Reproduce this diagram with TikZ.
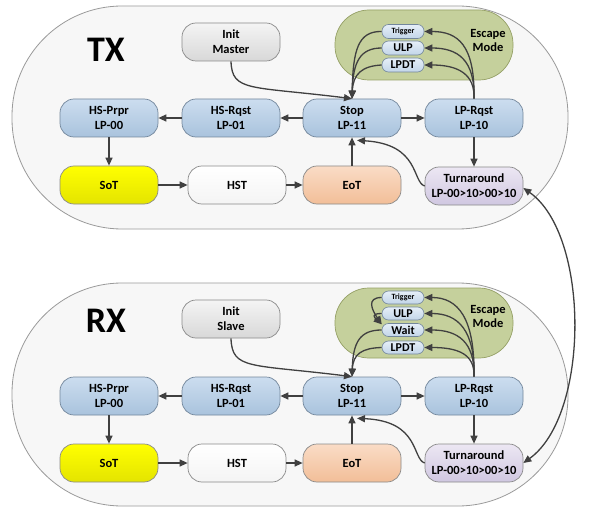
\documentclass[tikz,border=0pt]{standalone}
\usepackage{fontspec}
\setmainfont{Carlito}
\usetikzlibrary{arrows.meta}
\definecolor{contborder}{HTML}{9A9A9A}
\definecolor{contfill}{HTML}{F7F7F7}
\definecolor{bluetop}{HTML}{CCDDEF}
\definecolor{bluebot}{HTML}{A9C3DD}
\definecolor{blueborder}{HTML}{73879C}
\definecolor{graytop}{HTML}{F4F4F4}
\definecolor{graybot}{HTML}{D8D8D8}
\definecolor{grayborder}{HTML}{8A8A8A}
\definecolor{yeltop}{HTML}{FFFF00}
\definecolor{yelbot}{HTML}{E4E400}
\definecolor{peachtop}{HTML}{FADCC6}
\definecolor{peachbot}{HTML}{F2BE98}
\definecolor{lavtop}{HTML}{ECE7F3}
\definecolor{lavbot}{HTML}{D0C7E1}
\definecolor{escfill}{HTML}{C5D09C}
\definecolor{escborder}{HTML}{95A066}
\definecolor{smalltop}{HTML}{E6EFF8}
\definecolor{smallbot}{HTML}{C2D5E8}
\definecolor{arrcol}{HTML}{404040}
\begin{document}
\begin{tikzpicture}[x=1pt,y=-1pt,
  st/.style={line width=0.7pt, rounded corners=14pt, minimum width=98pt,
    minimum height=38pt, align=center, inner sep=1pt,
    font=\fontsize{12.5}{15}\selectfont\bfseries},
  bluest/.style={st, draw=blueborder, top color=bluetop, bottom color=bluebot},
  grayst/.style={st, draw=grayborder, top color=graytop, bottom color=graybot},
  yelst/.style={st, draw=grayborder, top color=yeltop, bottom color=yelbot},
  whitest/.style={st, draw=grayborder, top color=white, bottom color=graytop},
  peachst/.style={st, draw=grayborder, top color=peachtop, bottom color=peachbot},
  lavst/.style={st, draw=grayborder, top color=lavtop, bottom color=lavbot},
  small/.style={draw=blueborder, line width=0.6pt, rounded corners=6.5pt,
    minimum width=42pt, minimum height=14pt, inner sep=0pt,
    top color=smalltop, bottom color=smallbot,
    font=\fontsize{12}{13}\selectfont\bfseries},
  cont/.style={draw=contborder, line width=0.8pt, fill=contfill, rounded corners=110pt},
  escbox/.style={draw=escborder, line width=0.7pt, fill=escfill, rounded corners=34pt},
  bigtxt/.style={font=\fontsize{36}{40}\selectfont\bfseries},
  esctxt/.style={align=center, font=\fontsize{12.5}{14}\selectfont\bfseries},
  arr/.style={draw=arrcol, line width=1.3pt, -{Triangle[length=8pt,width=7pt]}},
  darr/.style={draw=arrcol, line width=1.3pt, {Triangle[length=8pt,width=7pt]}-{Triangle[length=8pt,width=7pt]}},
]
\useasboundingbox (0,0) rectangle (592,516);

% ---------------- TX ----------------
\path[cont] (12,6) rectangle (568,229);
\path[escbox] (335,10) rectangle (513,80);
\node[bigtxt] (txlbl) at (106,50) {TX};
\node[esctxt] (tesc) at (488,40) {Escape\\Mode};
\node[grayst] (tinit) at (231,42) {Init\\Master};
\node[bluest] (thsp) at (109,118) {HS-Prpr\\LP-00};
\node[bluest] (thsr) at (231,118) {HS-Rqst\\LP-01};
\node[bluest] (tstop) at (352,118) {Stop\\LP-11};
\node[bluest] (tlpr) at (474,118) {LP-Rqst\\LP-10};
\node[yelst] (tsot) at (109,185) {SoT};
\node[whitest] (thst) at (237,185) {HST};
\node[peachst] (teot) at (352,185) {EoT};
\node[lavst] (tturn) at (474,186) {Turnaround\\LP-00>10>00>10};
\node[small] (ttrig) at (403,31.5) {\fontsize{8}{9}\selectfont Trigger};
\node[small] (tulp) at (403,48) {ULP};
\node[small] (tlpdt) at (403,65) {LPDT};

\draw[arr] (tinit.south) .. controls (232,92) and (250,86) .. (tstop.north);
\draw[arr] (ttrig.west) .. controls (358,31) and (353,50) .. (tstop.north);
\draw[arr] (tulp.west) .. controls (360,48) and (353,62) .. (tstop.north);
\draw[arr] (tlpdt.west) .. controls (362,66) and (353,74) .. (tstop.north);
\draw[arr] (tlpr.north) .. controls (475,45) and (458,31.5) .. (ttrig.east);
\draw[arr] (tlpr.north) .. controls (475,60) and (458,48) .. (tulp.east);
\draw[arr] (tlpr.north) .. controls (475,74) and (458,65) .. (tlpdt.east);
\draw[arr] (tstop.west) -- (thsr.east);
\draw[arr] (thsr.west) -- (thsp.east);
\draw[arr] (thsp.south) -- (tsot.north);
\draw[arr] (tsot.east) -- (thst.west);
\draw[arr] (thst.east) -- (teot.west);
\draw[arr] (teot.north) -- (tstop.south);
\draw[arr] (tstop.east) -- (tlpr.west);
\draw[arr] (tlpr.south) -- (tturn.north);
\draw[arr] (tturn.west) .. controls (412,182) and (420,144) .. ([xshift=5pt,yshift=-3pt]tstop.south);

% ---------------- RX ----------------
\path[cont] (12,283) rectangle (568,506);
\path[escbox] (335,288) rectangle (513,358);
\node[bigtxt] (rxlbl) at (106,321) {RX};
\node[esctxt] (resc) at (488,316) {Escape\\Mode};
\node[grayst] (rinit) at (231,319) {Init\\Slave};
\node[bluest] (rhsp) at (109,396) {HS-Prpr\\LP-00};
\node[bluest] (rhsr) at (231,396) {HS-Rqst\\LP-01};
\node[bluest] (rstop) at (352,396) {Stop\\LP-11};
\node[bluest] (rlpr) at (474,396) {LP-Rqst\\LP-10};
\node[yelst] (rsot) at (109,463) {SoT};
\node[whitest] (rhst) at (237,463) {HST};
\node[peachst] (reot) at (352,463) {EoT};
\node[lavst] (rturn) at (474,463) {Turnaround\\LP-00>10>00>10};
\node[small, minimum height=13pt] (rtrig) at (403,297.5) {\fontsize{8}{9}\selectfont Trigger};
\node[small, minimum height=13pt] (rulp) at (403,313.5) {ULP};
\node[small, minimum height=13pt] (rwait) at (403,330) {Wait};
\node[small, minimum height=13pt] (rlpdt) at (403,347.5) {LPDT};

\draw[arr] (rinit.south) .. controls (232,370) and (250,364) .. (rstop.north);
\draw[arr] (rtrig.west) .. controls (366,297.5) and (372,310) .. (rwait.165);
\draw[arr] (rulp.west) .. controls (370,313.5) and (375,318) .. (rwait.165);
\draw[arr] (rwait.west) .. controls (360,330) and (353,342) .. (rstop.north);
\draw[arr] (rlpdt.west) .. controls (362,348) and (353,354) .. (rstop.north);
\draw[arr] (rlpr.north) .. controls (475,318) and (458,297.5) .. (rtrig.east);
\draw[arr] (rlpr.north) .. controls (475,330) and (458,313.5) .. (rulp.east);
\draw[arr] (rlpr.north) .. controls (475,342) and (458,330) .. (rwait.east);
\draw[arr] (rlpr.north) .. controls (475,354) and (458,347.5) .. (rlpdt.east);
\draw[arr] (rstop.west) -- (rhsr.east);
\draw[arr] (rhsr.west) -- (rhsp.east);
\draw[arr] (rhsp.south) -- (rsot.north);
\draw[arr] (rsot.east) -- (rhst.west);
\draw[arr] (rhst.east) -- (reot.west);
\draw[arr] (reot.north) -- (rstop.south);
\draw[arr] (rstop.east) -- (rlpr.west);
\draw[arr] (rlpr.south) -- (rturn.north);
\draw[arr] (rturn.west) .. controls (412,459) and (420,421) .. ([xshift=5pt,yshift=-3pt]rstop.south);

% ---------------- link ----------------
\draw[darr] ([yshift=-2pt]tturn.east) .. controls (590,235) and (590,415) .. (rturn.east);
\end{tikzpicture}
\end{document}
